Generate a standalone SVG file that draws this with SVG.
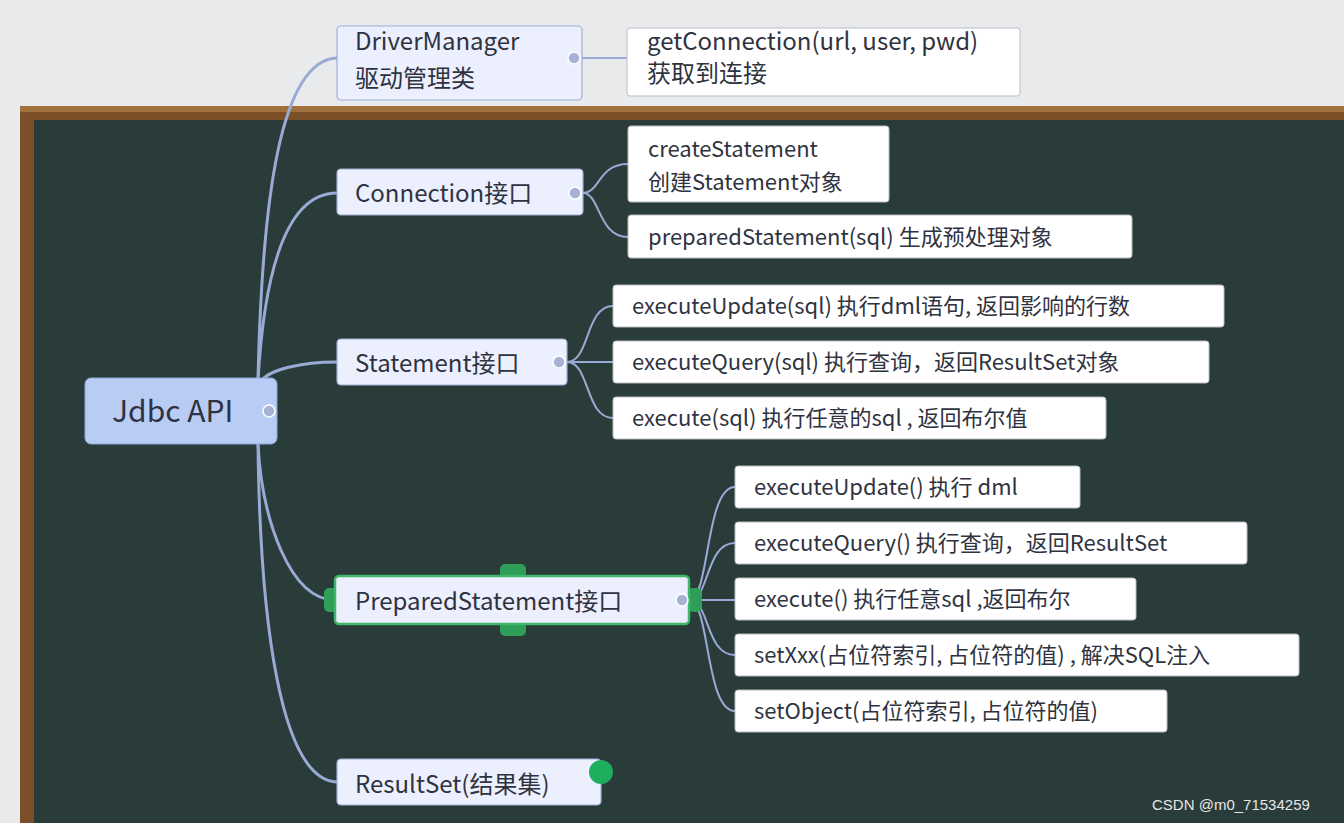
<svg xmlns="http://www.w3.org/2000/svg" width="1344" height="823" viewBox="0 0 1344 823">
<style>
text{font-family:"Noto Sans CJK SC","Noto Sans",sans-serif;fill:#2f3340}
.n{fill:#eceffd;stroke:#9eb0d8;stroke-width:1.2}
.c{fill:#ffffff;stroke:#b8bcc6;stroke-width:1}
.t{font-size:24px}
.s{font-size:22px}
.l{fill:none;stroke:#9aaad6;stroke-width:3}
.l2{fill:none;stroke:#9aaad6;stroke-width:2}
.m{fill:#a7b2d6;stroke:#fff;stroke-width:1.5}
</style>
<rect width="1344" height="823" fill="#e9eaec"/>
<rect x="20" y="106" width="1324" height="717" fill="#7b4f28"/>
<rect x="20" y="106" width="1324" height="6" fill="#a2703e"/>
<rect x="34" y="120" width="1310" height="703" fill="#2a3c39"/>
<g id="connectors">
<path class="l" d="M258 380 C262 200 280 60 337 58"/>
<path class="l" d="M258 380 C265 260 290 193 337 193"/>
<path class="l" d="M262 380 C270 370 300 362 337 362"/>
<path class="l" d="M258 444 C262 520 290 600 335 600"/>
<path class="l" d="M258 444 C260 620 280 780 337 782"/>
<path class="l2" d="M582 58 L627 58"/>
<path class="l2" d="M583 193 C600 193 598 164 628 164"/>
<path class="l2" d="M583 193 C600 193 598 237 628 237"/>
<path class="l2" d="M567 362 C590 362 585 306 613 306"/>
<path class="l2" d="M567 362 L613 362"/>
<path class="l2" d="M567 362 C590 362 585 418 613 418"/>
<path class="l2" d="M689 600 C710 600 705 487 735 487"/>
<path class="l2" d="M689 600 C710 600 705 543 735 543"/>
<path class="l2" d="M689 600 L735 600"/>
<path class="l2" d="M689 600 C710 600 705 655 735 655"/>
<path class="l2" d="M689 600 C710 600 705 711 735 711"/>
</g>
<g id="root"><rect x="85" y="378" width="192" height="66" rx="6" fill="#b8ccf4" stroke="#8ea8dc"/><text x="112" y="422" font-size="30">Jdbc API</text><circle class="m" cx="269" cy="411" r="6"/></g>
<g id="driver"><rect class="n" x="337" y="26" width="245" height="74" rx="4"/><text class="t" x="355" y="50">DriverManager</text><text class="t" x="355" y="87">驱动管理类</text><circle class="m" cx="574" cy="58" r="6"/></g>
<g id="getconn"><rect class="c" x="627" y="28" width="393" height="68" rx="3"/><text class="t" x="647" y="50">getConnection(url, user, pwd)</text><text class="t" x="647" y="82">获取到连接</text></g>
<g id="connection"><rect class="n" x="337" y="169" width="246" height="46" rx="4"/><text class="t" x="355" y="202">Connection接口</text><circle class="m" cx="575" cy="193" r="6"/></g>
<g id="create"><rect class="c" x="628" y="126" width="261" height="76" rx="3"/><text class="s" x="648" y="157">createStatement</text><text class="s" x="648" y="190">创建Statement对象</text></g>
<g id="prepared1"><rect class="c" x="628" y="215" width="504" height="43" rx="3"/><text class="s" x="648" y="245">preparedStatement(sql) 生成预处理对象</text></g>
<g id="statement"><rect class="n" x="337" y="339" width="230" height="46" rx="4"/><text class="t" x="355" y="372">Statement接口</text><circle class="m" cx="559" cy="362" r="6"/></g>
<g id="s1"><rect class="c" x="613" y="285" width="611" height="42" rx="3"/><text class="s" x="632" y="314">executeUpdate(sql) 执行dml语句, 返回影响的行数</text></g>
<g id="s2"><rect class="c" x="613" y="341" width="596" height="42" rx="3"/><text class="s" x="632" y="370">executeQuery(sql) 执行查询，返回ResultSet对象</text></g>
<g id="s3"><rect class="c" x="613" y="397" width="493" height="42" rx="3"/><text class="s" x="632" y="426">execute(sql) 执行任意的sql , 返回布尔值</text></g>
<g id="pstmt">
<rect x="500" y="564" width="26" height="14" rx="5" fill="#2f9e58"/><rect x="500" y="622" width="26" height="14" rx="5" fill="#2f9e58"/>
<rect x="324" y="588" width="14" height="24" rx="5" fill="#2f9e58"/><rect x="688" y="588" width="14" height="24" rx="5" fill="#2f9e58"/>
<rect x="335" y="576" width="354" height="48" rx="4" fill="#eceffd" stroke="#3bb86a" stroke-width="2.5"/>
<text class="t" x="355" y="610">PreparedStatement接口</text><circle class="m" cx="682" cy="600" r="6"/></g>
<g id="p1"><rect class="c" x="735" y="466" width="345" height="42" rx="3"/><text class="s" x="754" y="495">executeUpdate() 执行 dml</text></g>
<g id="p2"><rect class="c" x="735" y="522" width="512" height="42" rx="3"/><text class="s" x="754" y="551">executeQuery() 执行查询，返回ResultSet</text></g>
<g id="p3"><rect class="c" x="735" y="578" width="401" height="42" rx="3"/><text class="s" x="754" y="607">execute() 执行任意sql ,返回布尔</text></g>
<g id="p4"><rect class="c" x="735" y="634" width="564" height="42" rx="3"/><text class="s" x="754" y="663">setXxx(占位符索引, 占位符的值) , 解决SQL注入</text></g>
<g id="p5"><rect class="c" x="735" y="690" width="432" height="42" rx="3"/><text class="s" x="754" y="719">setObject(占位符索引, 占位符的值)</text></g>
<g id="resultset"><rect class="n" x="337" y="759" width="264" height="46" rx="4"/><text class="t" x="355" y="793">ResultSet(结果集)</text><circle cx="601" cy="772" r="12" fill="#1fae5e"/></g>
<text x="1152" y="810" font-size="15" style="fill:#e6e6e6;font-family:'Liberation Sans',sans-serif">CSDN @m0_71534259</text>
</svg>
